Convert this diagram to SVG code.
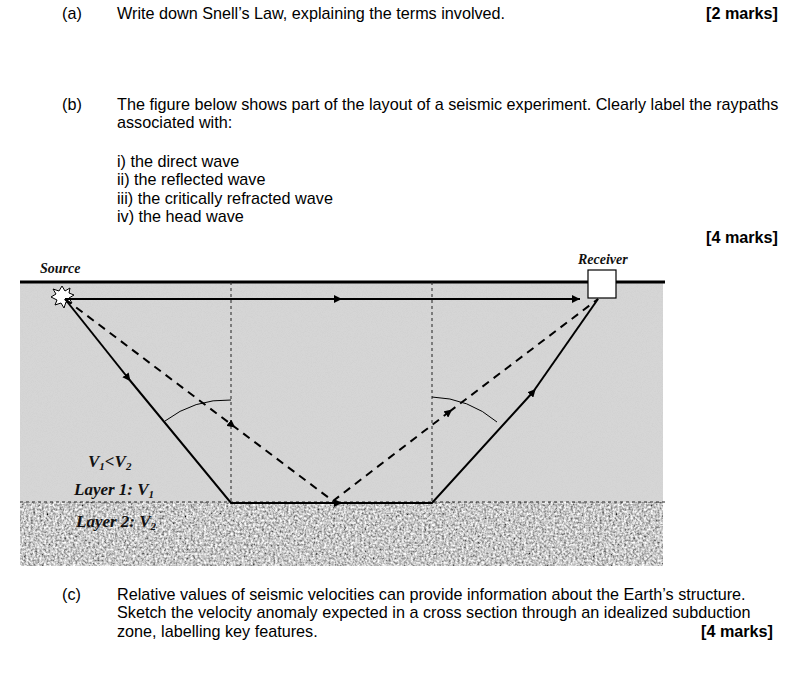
<svg xmlns="http://www.w3.org/2000/svg" width="802" height="674" viewBox="0 0 802 674">
<style>
.t{font-family:"Liberation Sans",Arial,sans-serif;font-size:16.2px;fill:#000}
.b{font-weight:bold}
.l{font-family:"Liberation Serif","Times New Roman",serif;font-style:italic;font-weight:bold;fill:#111}
.ray{stroke:#000;stroke-width:2;fill:none}
.dash{stroke:#000;stroke-width:2;fill:none;stroke-dasharray:8 6}
.dot{stroke:#222;stroke-width:1;fill:none;stroke-dasharray:3 3}
.arc{stroke:#000;stroke-width:1;fill:none}
</style>
<defs>
<marker id="ah" viewBox="0 0 10 10" refX="5" refY="5" markerWidth="8" markerHeight="8" orient="auto" markerUnits="userSpaceOnUse"><path d="M0,0 L10,5 L0,10 z" fill="#000"/></marker>
<marker id="ahe" viewBox="0 0 10 10" refX="10" refY="5" markerWidth="8" markerHeight="8" orient="auto" markerUnits="userSpaceOnUse"><path d="M0,0 L10,5 L0,10 z" fill="#000"/></marker>
<filter id="n1" x="0" y="0" width="1" height="1"><feTurbulence type="fractalNoise" baseFrequency="0.45" numOctaves="2" seed="3"/><feColorMatrix type="matrix" values="1.5 0 0 0 -0.17 1.5 0 0 0 -0.17 1.5 0 0 0 -0.17 0 0 0 0 1"/></filter>
<filter id="n2" x="0" y="0" width="1" height="1"><feTurbulence type="fractalNoise" baseFrequency="1.2" numOctaves="1" seed="5"/><feColorMatrix type="matrix" values="0 0 0 0 0.5 0 0 0 0 0.5 0 0 0 0 0.5 0.5 0 0 0 -0.2"/></filter>
</defs>
<text class="t" x="62" y="19">(a)</text>
<text class="t" x="117" y="19">Write down Snell’s Law, explaining the terms involved.</text>
<text class="t b" x="778" y="19" text-anchor="end">[2 marks]</text>
<text class="t" x="62" y="110">(b)</text>
<text class="t" x="117" y="110">The figure below shows part of the layout of a seismic experiment. Clearly label the raypaths</text>
<text class="t" x="117" y="128">associated with:</text>
<text class="t" x="117" y="167">i) the direct wave</text>
<text class="t" x="117" y="185">ii) the reflected wave</text>
<text class="t" x="117" y="204">iii) the critically refracted wave</text>
<text class="t" x="117" y="222">iv) the head wave</text>
<text class="t b" x="778" y="243" text-anchor="end">[4 marks]</text>

<g id="layer1"><rect x="20" y="282" width="643" height="220" fill="#d6d6d6"/><rect x="20" y="282" width="643" height="220" filter="url(#n2)"/></g>
<g id="layer2"><rect x="20" y="502" width="643" height="64" filter="url(#n1)"/></g>
<line x1="20" y1="502" x2="665" y2="502" class="dot"/>
<line x1="20" y1="282" x2="665" y2="282" stroke="#000" stroke-width="3"/>

<g id="labels">
<text class="l" x="40" y="273" font-size="14">Source</text>
<text class="l" x="578" y="264" font-size="14">Receiver</text>
<text class="l" x="88" y="467" font-size="17">V<tspan font-size="11" dy="3">1</tspan><tspan dy="-3">&lt;V</tspan><tspan font-size="11" dy="3">2</tspan></text>
<text class="l" x="74" y="495" font-size="17">Layer 1: V<tspan font-size="11" dy="3">1</tspan></text>
<text class="l" x="76" y="527" font-size="17">Layer 2: V<tspan font-size="11" dy="3">2</tspan></text>
</g>

<g id="source"><polygon points="62,286 65,291 70,288 69,293 74,295 69,298 72,303 66,302 64,308 61,303 55,305 57,300 51,297 56,294 53,289 59,291" fill="#fff" stroke="#000" stroke-width="1"/></g>
<g id="receiver"><rect x="588" y="270" width="28" height="28" fill="#fff" stroke="#000" stroke-width="1.2"/></g>

<g id="connectors">
<line x1="231" y1="282" x2="231" y2="503" class="dot"/>
<line x1="432" y1="282" x2="432" y2="503" class="dot"/>
<path d="M231,400 A103,103 0 0 0 165,421" class="arc"/>
<path d="M432,397 A106,106 0 0 1 497,422" class="arc"/>
<path d="M65,299 L338,299" class="ray" marker-end="url(#ah)"/>
<path d="M338,299 L580,299" class="ray" marker-end="url(#ahe)"/>
<path d="M65,299 L128,378" class="ray" marker-end="url(#ah)"/>
<path d="M128,378 L231,503 L338,503" class="ray" marker-end="url(#ah)"/>
<path d="M338,503 L432,503 L533,392" class="ray" marker-end="url(#ah)"/>
<path d="M533,392 L598,299" class="ray"/>
<path d="M65,299 L232,425" class="dash" marker-end="url(#ah)"/>
<path d="M232,425 L333,501 L449,412" class="dash" marker-end="url(#ah)"/>
<path d="M449,412 L598,299" class="dash"/>
</g>

<text class="t" x="62" y="600">(c)</text>
<text class="t" x="117" y="600">Relative values of seismic velocities can provide information about the Earth’s structure.</text>
<text class="t" x="117" y="618">Sketch the velocity anomaly expected in a cross section through an idealized subduction</text>
<text class="t" x="117" y="637">zone, labelling key features.</text>
<text class="t b" x="773" y="637" text-anchor="end">[4 marks]</text>
</svg>
